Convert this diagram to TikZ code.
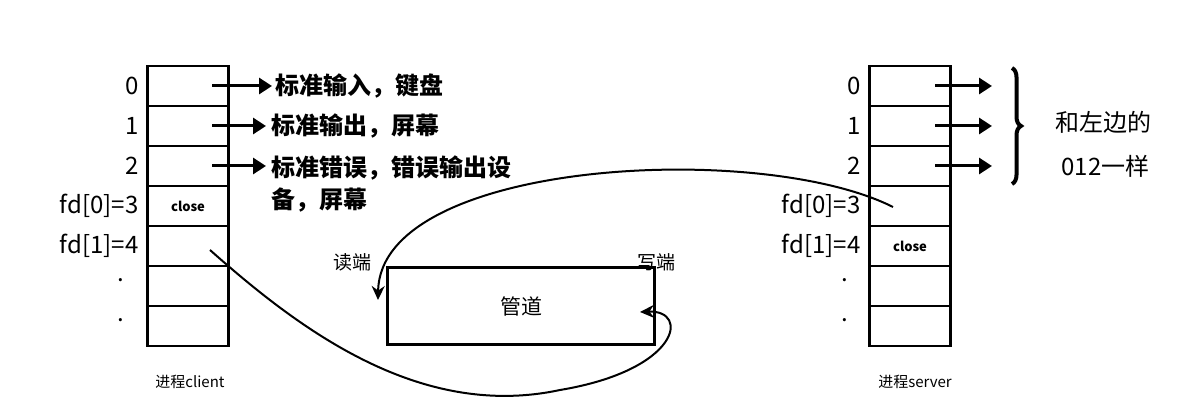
\documentclass[tikz,border=0pt]{standalone}
\usepackage{fontspec}
\setmainfont{Noto Sans CJK SC}
\usetikzlibrary{arrows.meta,decorations.pathreplacing}
\begin{document}
\begin{tikzpicture}[x=1pt,y=-1pt,
  cell/.style={draw,line width=2.2pt,minimum width=81pt,minimum height=40pt,inner sep=0pt,font=\fontsize{13}{14}\selectfont\bfseries},
  lbl/.style={anchor=east,font=\fontsize{24}{26}\selectfont},
  big/.style={anchor=west,font=\fontsize{24}{32}\selectfont\bfseries,align=left},
  arr/.style={line width=3pt,-{Triangle[length=13pt,width=16pt]}},
  curv/.style={line width=2pt,-{Stealth[length=14pt,width=13pt]}}]
\useasboundingbox (0,0) rectangle (1179,411);
\foreach \i/\t in {0/,1/,2/,3/close,4/,5/,6/}{
  \node[cell] (L\i) at (188,{86+40*\i}) {\t};
  \node[cell] (R\i) at (910,{86+40*\i}) {};
}
\path (R4) node[cell] {close};
\foreach \i/\t in {0/0,1/1,2/2,3/{fd[0]=3},4/{fd[1]=4}}{
  \node[lbl] at (142,{86+40*\i}) {\t};
  \node[lbl] at (864,{86+40*\i}) {\t};
}
\foreach \i in {5,6}{
  \node[lbl] at (128,{80+40*\i}) {.};
  \node[lbl] at (852,{80+40*\i}) {.};
}
\node[big] (t0) at (272,86) {标准输入，键盘};
\node[big] (t1) at (268,126) {标准输出，屏幕};
\node[big] (t2) at (268,184) {标准错误，错误输出设\\备，屏幕};
\coordinate (a0) at (212,86); \coordinate (a1) at (212,126); \coordinate (a2) at (212,166);
\draw[arr] (a0) -- (t0.west);
\draw[arr] (a1) -- (266,126);
\draw[arr] (a2) -- (266,166);
\foreach \i in {0,1,2}{
  \coordinate (b\i) at (935,{86+40*\i});
  \draw[arr] (b\i) -- (992,{86+40*\i});
}
\draw[line width=4pt,decorate,decoration={brace,amplitude=9pt}] (1012,68) -- (1012,184);
\node[anchor=west,font=\fontsize{24}{26}\selectfont] at (1052,122) {和左边的};
\node[anchor=west,font=\fontsize{24}{26}\selectfont] at (1058,166) {012一样};
\node[draw,line width=2.2pt,minimum width=267pt,minimum height=77pt,font=\fontsize{21}{22}\selectfont] (P) at (521,306) {管道};
\node[font=\fontsize{19}{20}\selectfont] at (352,262) {读端};
\node[font=\fontsize{19}{20}\selectfont] at (656,262) {写端};
\node[font=\fontsize{15}{16}\selectfont] at (190,382) {进程client};
\node[font=\fontsize{15}{16}\selectfont] at (915,382) {进程server};
\coordinate (s3) at (893,207);
\coordinate (c4) at (210,250);
\draw[curv] (s3) .. controls (760,140) and (380,160) .. (378,300);
\draw[curv] (c4) .. controls (300,330) and (420,420) .. (560,390) .. controls (680,370) and (690,310) .. (640,312);
\end{tikzpicture}
\end{document}
